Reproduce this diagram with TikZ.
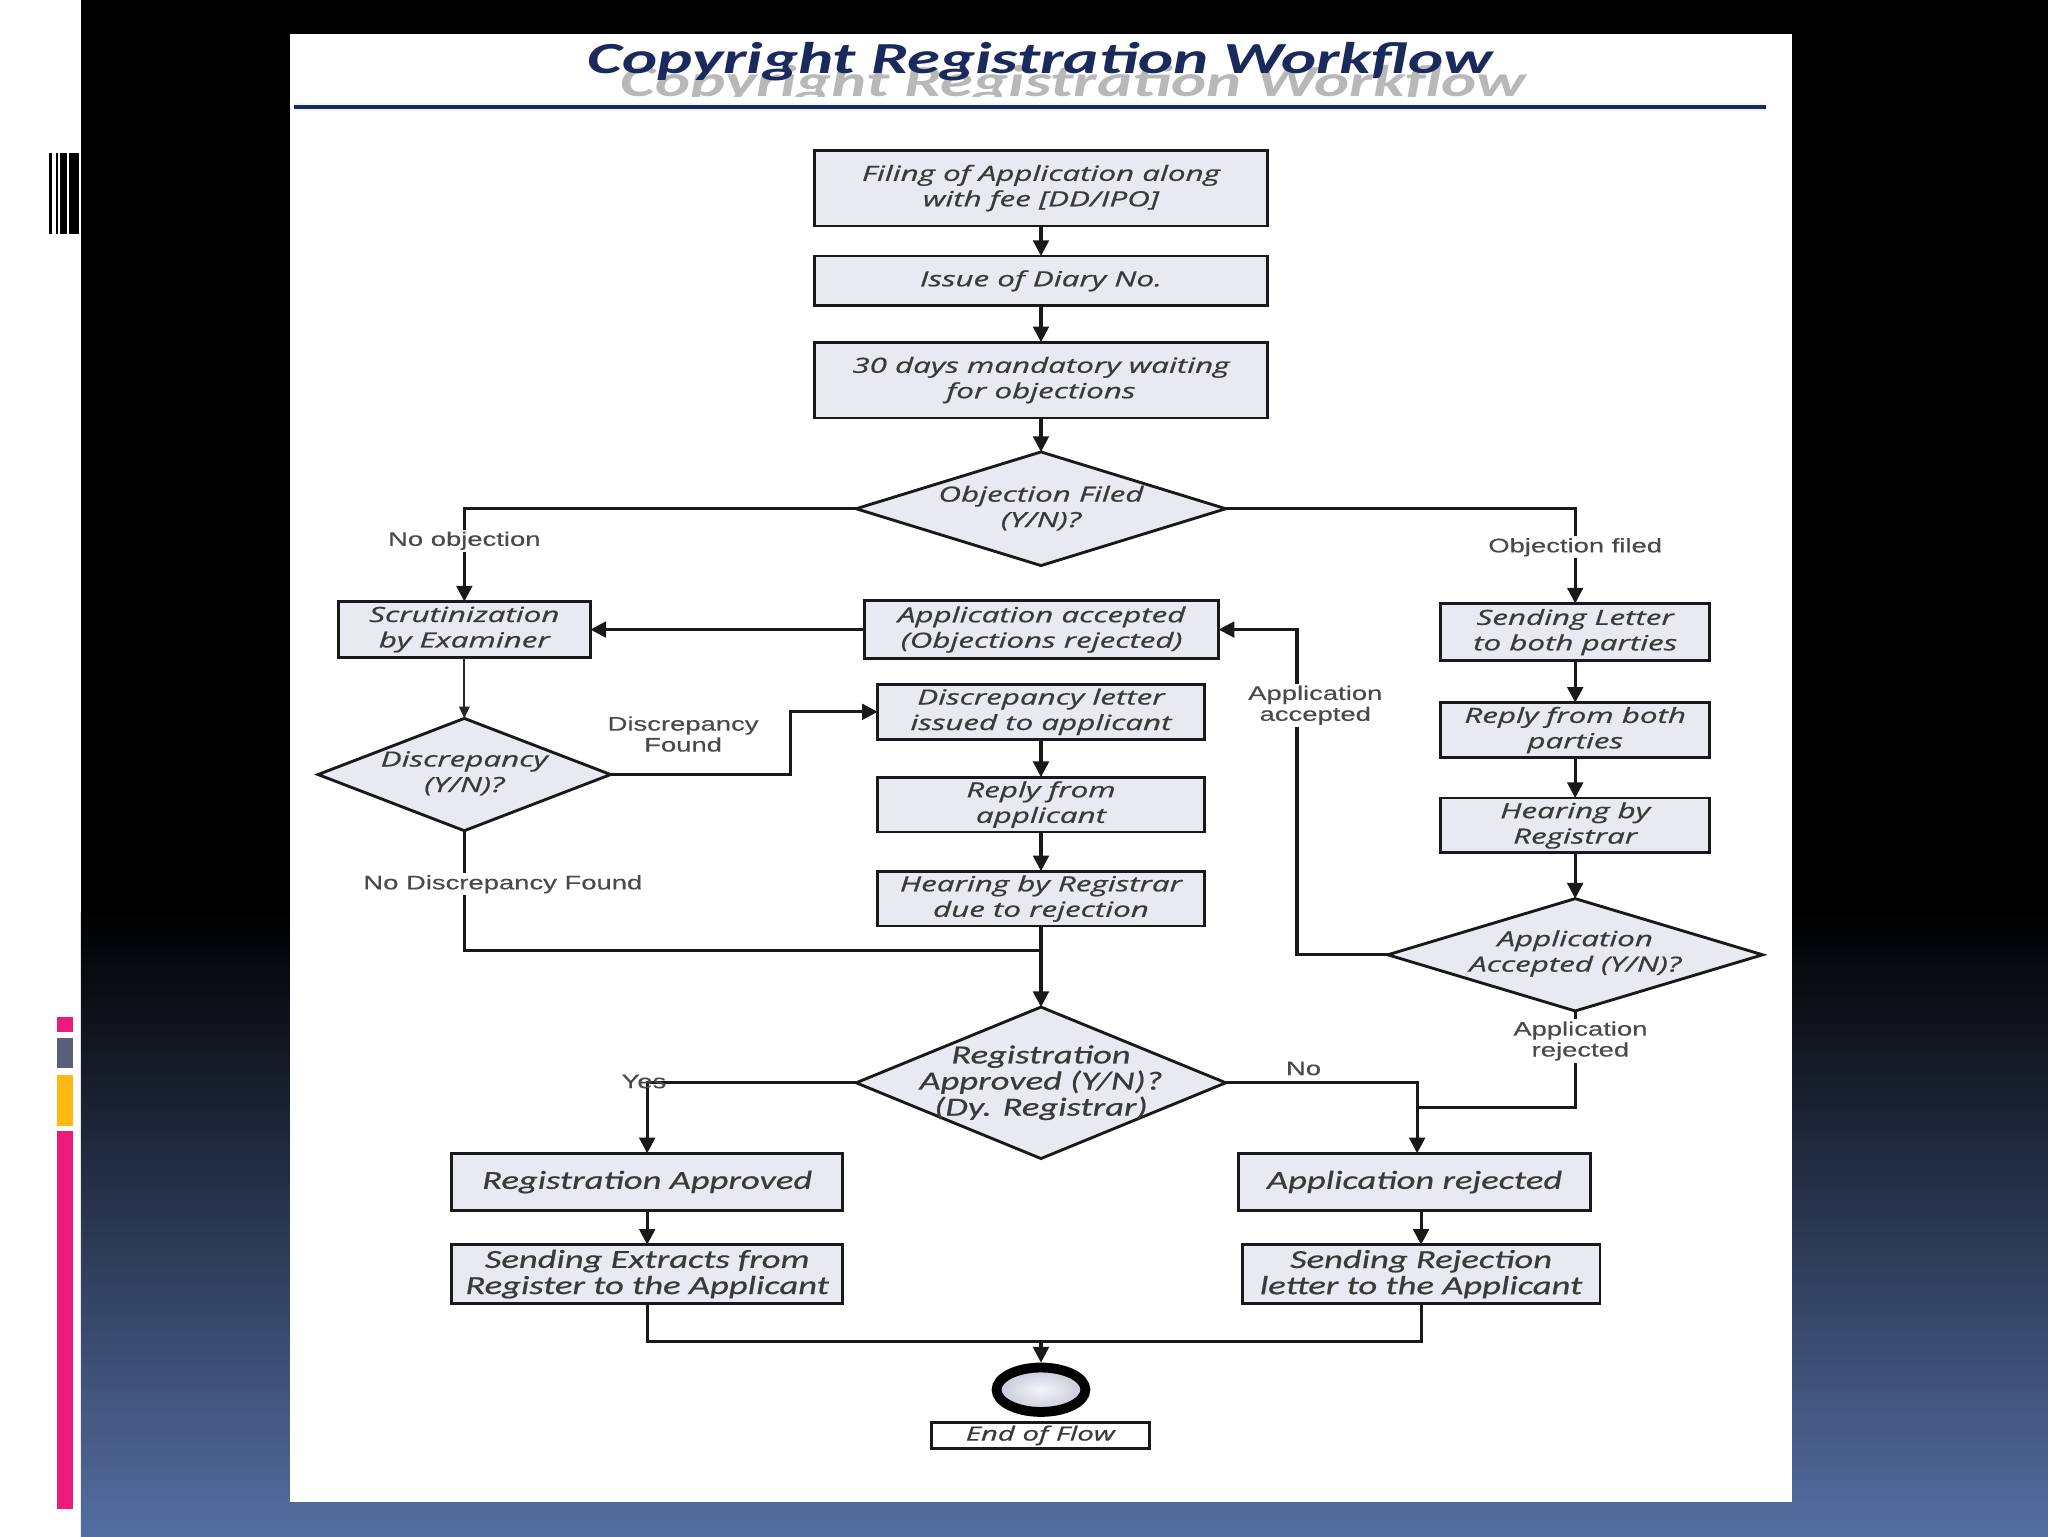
\documentclass[tikz,border=0pt]{standalone}
\usepackage{fontspec}
\setmainfont{Open Sans}
\newfontfamily\boxfont[FakeStretch=1.5, FakeBold=0.8]{Open Sans}
\newfontfamily\narrowfont[FakeStretch=1.4, FakeBold=0.6]{Carlito}
\newfontfamily\titlefont[FakeStretch=1.5]{Carlito}
\newfontfamily\labfont[FakeStretch=1.4, FakeBold=0.3]{Liberation Sans}
\usetikzlibrary{shapes.geometric,arrows.meta}
\definecolor{boxfill}{HTML}{E8E9F1}
\definecolor{boxtext}{HTML}{3A3A3A}
\definecolor{navy}{HTML}{1B2A5C}
\definecolor{labgray}{HTML}{4A4A4A}
\definecolor{bgblue}{RGB}{84,110,162}
\definecolor{barpink}{HTML}{EC1A7A}
\definecolor{bargray}{HTML}{5A607A}
\definecolor{baryellow}{HTML}{FDB813}
\definecolor{endin}{HTML}{F4F5FA}
\definecolor{endout}{HTML}{C4C7D6}
\begin{document}
\begin{tikzpicture}[x=1pt,y=-1pt,
  proc/.style={draw=black!90, line width=2.2pt, fill=boxfill, inner sep=0pt, outer sep=0pt, align=center,
    font=\boxfont\itshape\fontsize{16}{19.5}\selectfont, text=boxtext},
  nproc/.style={proc, font=\narrowfont\itshape\fontsize{20}{20}\selectfont},
  dec/.style={draw=black!90, line width=2.2pt, fill=boxfill, diamond, inner sep=0pt, outer sep=0pt},
  dtext/.style={align=center, inner sep=0pt, font=\boxfont\itshape\fontsize{16}{19.5}\selectfont, text=boxtext},
  ndtext/.style={dtext, font=\narrowfont\itshape\fontsize{20}{20}\selectfont},
  lab/.style={font=\labfont\fontsize{15}{16}\selectfont, text=labgray, fill=white, inner sep=1.5pt, align=center},
  ln/.style={line width=2.4pt, draw=black!90},
  arr/.style={ln, -{Triangle[length=12pt,width=12pt]}},
  thinarr/.style={line width=1.4pt, draw=black!85, -{Triangle[length=9pt,width=8pt]}},
]
\useasboundingbox (0,0) rectangle (1568,1176);
% background
\fill[white] (0,0) rectangle (62,1176);
\fill[black] (62,0) rectangle (1568,700);
\shade[top color=black, bottom color=bgblue] (62,699) rectangle (1568,1176);
\fill[white] (222,26) rectangle (1372,1150);
% left bars
\fill[black] (37.8,117) rectangle (39.6,179);
\fill[black] (42.6,117) rectangle (44.6,179);
\fill[black] (46.2,117) rectangle (51.1,179);
\fill[black] (52.8,117) rectangle (60.7,179);
\fill[barpink] (44,779) rectangle (56,790);
\fill[bargray] (44,795) rectangle (56,818);
\fill[baryellow] (44,823) rectangle (56,862);
\fill[barpink] (44,866) rectangle (56,1155);
% title
\begin{scope}
\clip (222,26) rectangle (1372,74);
\node[font=\titlefont\bfseries\itshape\fontsize{34}{40}\selectfont, text=black!28] (tshadow) at (822,65) {Copyright Registration Workflow};
\end{scope}
\node[font=\titlefont\bfseries\itshape\fontsize{34}{40}\selectfont, text=navy] (title) at (796.5,47) {Copyright Registration Workflow};
\draw[line width=6pt, color=cyan!8] (225,82) -- (1352,82);
\draw[line width=3pt, color=navy] (225,82) -- (1352,82);
% nodes
\node[proc, minimum width=347pt, minimum height=58pt] (b1) at (797,144) {Filing of Application along\\with fee [DD/IPO]};
\node[proc, minimum width=347pt, minimum height=38pt] (b2) at (797,215) {Issue of Diary No.};
\node[proc, minimum width=347pt, minimum height=58pt] (b3) at (797,291) {30 days mandatory waiting\\for objections};
\node[dec, minimum width=283pt, minimum height=87pt] (d1) at (797,389.5) {};
\node[dtext] (d1t) at (797,389) {Objection Filed\\(Y/N)?};
\node[proc, minimum width=193pt, minimum height=43pt] (b4) at (355.5,482) {Scrutinization\\by Examiner};
\node[proc, minimum width=271pt, minimum height=44pt] (b5) at (797.5,482) {Application accepted\\(Objections rejected)};
\node[proc, minimum width=206pt, minimum height=44pt] (b6) at (1206,484) {Sending Letter\\to both parties};
\node[dec, minimum width=224pt, minimum height=86pt] (d2) at (355.5,593) {};
\node[dtext] (d2t) at (355.5,592) {Discrepancy\\(Y/N)?};
\node[proc, minimum width=250pt, minimum height=42pt] (b7) at (797,545) {Discrepancy letter\\issued to applicant};
\node[proc, minimum width=250pt, minimum height=42pt] (b8) at (797,616) {Reply from\\applicant};
\node[proc, minimum width=250pt, minimum height=42pt] (b9) at (797,688) {Hearing by Registrar\\due to rejection};
\node[proc, minimum width=206pt, minimum height=42pt] (b10) at (1206,559) {Reply from both\\parties};
\node[proc, minimum width=206pt, minimum height=42pt] (b11) at (1206,632) {Hearing by\\Registrar};
\node[dec, minimum width=287pt, minimum height=86pt] (d3) at (1206,731) {};
\node[dtext] (d3t) at (1206,730) {Application\\Accepted (Y/N)?};
\node[dec, minimum width=283pt, minimum height=116pt] (d4) at (797,829) {};
\node[ndtext] (d4t) at (797,829) {Registration\\Approved (Y/N)?\\(Dy. Registrar)};
\node[nproc, minimum width=299pt, minimum height=44pt] (b12) at (495.5,905) {Registration Approved};
\node[nproc, minimum width=270pt, minimum height=44pt] (b13) at (1083,905) {Application rejected};
\node[nproc, minimum width=299pt, minimum height=45pt] (b14) at (495.5,975.5) {Sending Extracts from\\Register to the Applicant};
\node[nproc, minimum width=274pt, minimum height=45pt] (b15) at (1088,975.5) {Sending Rejection\\letter to the Applicant};
\node[ellipse, draw=black, line width=7.5pt, minimum width=68pt, minimum height=34pt,
      inner color=endin, outer color=endout, inner sep=0pt] (endc) at (797,1064) {};
\node[draw=black!90, line width=2pt, fill=white, minimum width=167pt, minimum height=20pt, inner sep=0pt,
      font=\boxfont\itshape\fontsize{15}{16}\selectfont, text=boxtext] (eof) at (796.5,1099) {End of Flow};
% helper coordinates
\coordinate (k1) at (605,545);
\coordinate (k2) at (797,728);
\coordinate (k3) at (993,482);
\coordinate (k4) at (1085,848);
\coordinate (k6) at (797,1027);
% connectors
\draw[arr] (b1) -- (b2);
\draw[arr] (b2) -- (b3);
\draw[arr] (b3) -- (d1);
\draw[arr] (d1.west) -| (b4.north);
\draw[arr] (d1.east) -| (b6.north);
\draw[arr] (b5.west) -- (b4.east);
\draw[thinarr] (b4.south) -- (d2.north);
\draw[arr] (d2.east) -| (k1) -- (b7.west);
\draw[ln] (d2.south) |- (k2);
\draw[arr] (b7) -- (b8);
\draw[arr] (b8) -- (b9);
\draw[arr] (b9) -- (d4);
\draw[arr] (b6) -- (b10);
\draw[arr] (b10) -- (b11);
\draw[arr] (b11) -- (d3);
\draw[arr] (d3.west) -| (k3) -- (b5.east);
\draw[ln] (d3.south) |- (k4);
\draw[arr] (d4.east) -| ([xshift=2pt]b13.north);
\draw[arr] (d4.west) -| (b12.north);
\draw[arr] (b12) -- (b14);
\draw[arr] (b15.north |- b13.south) -- (b15.north);
\draw[ln] (b14.south) |- (k6) -| (b15.south);
\draw[arr] (k6) -- (endc.north);
% labels
\node[lab] (l1) at (355.5,414) {No objection};
\node[lab] (l2) at (1206,419) {Objection filed};
\node[lab, fill=none] (l3) at (523,562) {Discrepancy\\Found};
\node[lab] (l4) at (385,677) {No Discrepancy Found};
\node[lab] (l5) at (1007,540) {Application\\accepted};
\node[lab] (l6) at (1210,797) {Application\\rejected};
\node[lab, fill=none] (l7) at (998,818) {No};
\node[lab, fill=none] (l8) at (493,828) {Yes};
\end{tikzpicture}
\end{document}
